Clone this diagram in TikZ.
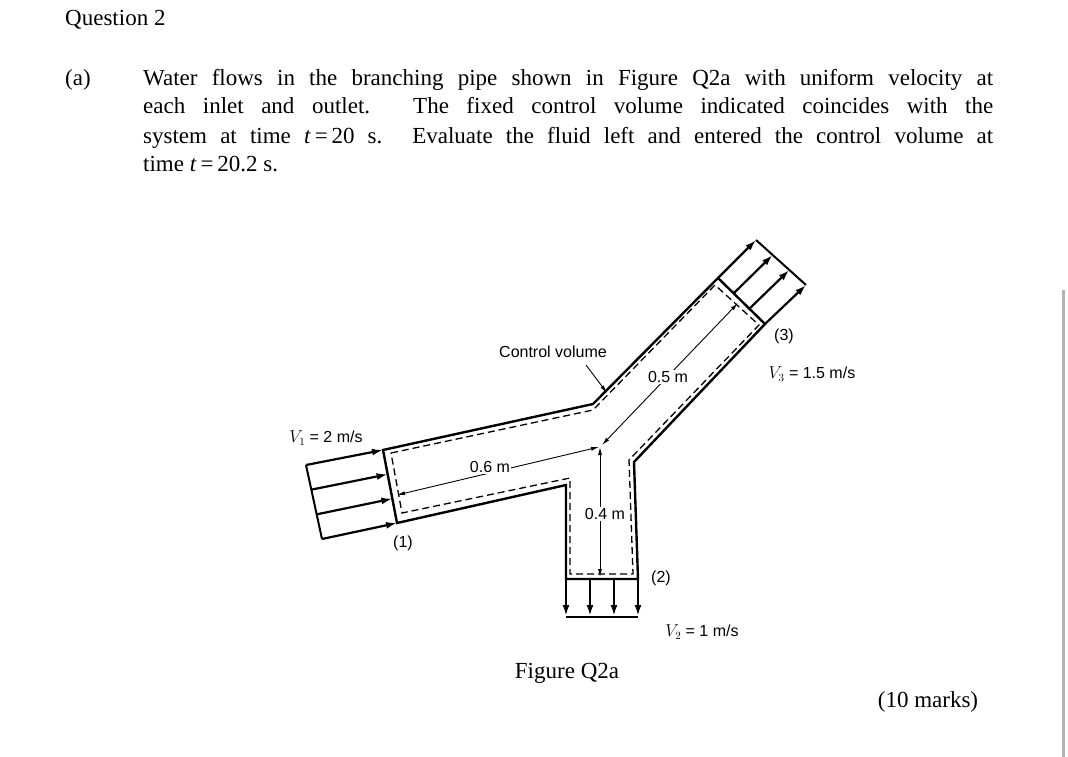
\documentclass[tikz,border=0pt]{standalone}
\usepackage{fontspec}
\setmainfont{Liberation Serif}
\newfontfamily\dsans{Liberation Sans}
\usetikzlibrary{arrows.meta,calc}
\begin{document}
\begin{tikzpicture}[x=1pt,y=-1pt,
 wall/.style={line width=2.4pt,line join=miter},
 cv/.style={line width=1.3pt,dash pattern=on 7pt off 4pt},
 flow/.style={line width=2.2pt,-{Latex[length=11pt,width=7pt]}},
 dim/.style={line width=0.9pt,{Latex[length=8pt,width=4pt]}-{Latex[length=8pt,width=4pt]}},
 lab/.style={font=\dsans\fontsize{16}{18}\selectfont,inner sep=1pt},
 txt/.style={font=\fontsize{23}{26}\selectfont,anchor=west,inner sep=0pt}]
\useasboundingbox (0,0) rectangle (1068,757);
% text
\node[txt] (q) at (65,20) {Question 2};
\node[txt] (a) at (65,80) {(a)};
\node[txt] (l1) at (143,80) {\makebox[850pt][s]{Water flows in the branching pipe shown in Figure Q2a with uniform velocity at}};
\node[txt] (l2) at (143,106) {\makebox[850pt][s]{each inlet and outlet. The fixed control volume indicated coincides with the}};
\node[txt] (l3) at (143,138) {\makebox[850pt][s]{system at time \textit{t}\,=\,20 s. Evaluate the fluid left and entered the control volume at}};
\node[txt] (l4) at (143,164) {time \textit{t}\,=\,20.2 s.};
\node[txt,anchor=center] (fig) at (567,673) {Figure Q2a};
\node[txt,anchor=center] (mk) at (928,702) {(10 marks)};
\draw[gray!60,line width=3pt] (1063,290) -- (1063,757);
% pipe
\coordinate (A) at (383,450); \coordinate (B) at (593,404); \coordinate (C) at (718,278);
\coordinate (D) at (765,324); \coordinate (E) at (634,462); \coordinate (F) at (638,579);
\coordinate (G) at (566,579); \coordinate (H) at (566,485); \coordinate (I) at (397,523);
\draw[wall] (A) -- (B) -- (C) -- (D) -- (E) -- (F) -- (G) -- (H) -- (I) -- cycle;
% control volume
\draw[cv] (391,453) -- (593,410) -- (715,285) -- (759,325) -- (629,460) -- (633,574) -- (570,574) -- (570,478) -- (402,513) -- cycle;
% inlet arrows
\coordinate (P1) at (306,465); \coordinate (P4) at (322,539);
\draw[line width=2pt] (P1) -- (P4);
\foreach \t in {0,0.333,0.667,1}{
  \draw[flow] ($(P1)!\t!(P4)$) -- ($(A)!\t!(I)$);}
% outlet 2 arrows
\draw[line width=2pt] (566,617) -- (638,617);
\foreach \x in {566,590,614,638}{\draw[flow] (\x,579) -- (\x,616);}
% outlet 3 arrows
\coordinate (Q1) at (756,240); \coordinate (Q4) at (806,285);
\draw[line width=2pt] (Q1) -- (Q4);
\foreach \t in {0,0.333,0.667,1}{
  \draw[flow] ($(C)!\t!(D)$) -- ($(Q1)!\t!(Q4)$);}
% dimensions
\coordinate (d6a) at (397,495); \coordinate (d6b) at (599,447);
\draw[dim] (d6a) -- (d6b);
\node[lab,fill=white] (l06) at (490,467) {0.6 m};
\coordinate (d4a) at (600,447); \coordinate (d4b) at (600,577);
\draw[dim] (d4a) -- (d4b);
\node[lab,fill=white] (l04) at (605,514) {0.4 m};
\coordinate (d5a) at (602,445); \coordinate (d5b) at (738,303);
\draw[dim] (d5a) -- (d5b);
\node[lab,fill=white] (l05) at (668,377) {0.5 m};
% labels
\node[lab] (cvl) at (553,352) {Control volume};
\coordinate (cvt) at (607,393);
\draw[line width=0.9pt,-{Latex[length=8pt,width=4pt]}] (586,365) -- (cvt);
\node[lab] (v1) at (326,438) {$V_1$ = 2 m/s};
\node[lab] (n1) at (403,543) {(1)};
\node[lab] (n2) at (661,578) {(2)};
\node[lab] (v2) at (702,632) {$V_2$ = 1 m/s};
\node[lab] (n3) at (784,336) {(3)};
\node[lab] (v3) at (812,374) {$V_3$ = 1.5 m/s};
\end{tikzpicture}
\end{document}
